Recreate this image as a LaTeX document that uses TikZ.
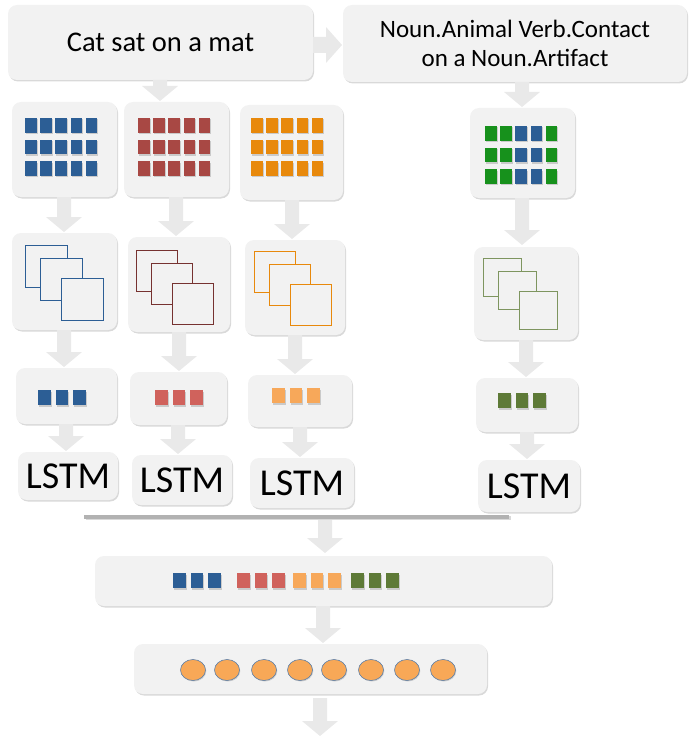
\documentclass[tikz,border=0pt]{standalone}
\usepackage{fontspec}
\setmainfont{Carlito}
\usetikzlibrary{shadows}
\definecolor{bx}{HTML}{F2F2F2}
\definecolor{ar}{HTML}{E9E9E9}
\definecolor{cB}{HTML}{2C5E95}
\definecolor{cR}{HTML}{A84844}
\definecolor{cO}{HTML}{E8890C}
\definecolor{cG}{HTML}{17911C}
\definecolor{sR}{HTML}{D0625C}
\definecolor{sO}{HTML}{F7A85A}
\definecolor{sG}{HTML}{5E7A37}
\definecolor{eO}{HTML}{F8A857}
\definecolor{eE}{HTML}{5C7FA8}
\tikzset{
  box/.style={fill=bx,draw=none,rounded corners=9pt,drop shadow={shadow xshift=1pt,shadow yshift=-1.5pt,opacity=0.3}},
  sq/.style={draw=none,drop shadow={shadow xshift=1pt,shadow yshift=-1.5pt,opacity=0.35}},
  frm/.style={fill=bx,line width=0.8pt},
  lbl/.style={font=\fontsize{38}{40}\selectfont},
}
\newcommand\dnarr[3]{\fill[ar] (#1-7,#2) -- (#1+7,#2) -- (#1+7,#3-15) -- (#1+18,#3-15) -- (#1,#3) -- (#1-18,#3-15) -- (#1-7,#3-15) -- cycle;}
\newcommand\gcol[3]{\foreach \j in {0,...,2}{\fill[#3,sq] (#1,#2+\j*21.5) rectangle ++(11.5,14.5);}}
\newcommand\grid[3]{\foreach \i in {0,...,4}{\gcol{#1+\i*15.2}{#2}{#3}}}
\newcommand\frames[5]{\draw[frm,draw=#5] (#1,#2) rectangle ++(#4,#4);\draw[frm,draw=#5] (#1+15,#2+13) rectangle ++(#4,#4);\draw[frm,draw=#5] (#1+36,#2+33) rectangle ++(#4,#4);}
\newcommand\three[3]{\foreach \i in {0,1,2}{\fill[#3,sq] (#1+\i*17.5,#2) rectangle ++(12.5,15);}}
\begin{document}
\begin{tikzpicture}[x=1pt,y=-1pt]
\useasboundingbox (0,0) rectangle (697,749);
% top boxes
\node[box,minimum width=305,minimum height=75,font=\fontsize{28.5}{30}\selectfont] (A) at (160.5,42.5) {Cat sat on a mat};
\node[box,minimum width=344,minimum height=77,font=\fontsize{25}{29}\selectfont,align=center] (B) at (515,43.5) {Noun.Animal Verb.Contact\\on a Noun.Artifact};
\fill[ar] (313,37) -- (326,37) -- (326,27) -- (342,45) -- (326,63) -- (326,53) -- (313,53) -- cycle;
\dnarr{160}{80}{101}
\dnarr{522}{82}{107}
% row 1
\node[box,minimum width=105,minimum height=95] (g1) at (64.5,149.5) {};
\node[box,minimum width=105,minimum height=95] (g2) at (176.5,149.5) {};
\node[box,minimum width=103,minimum height=95] (g3) at (291.5,152.5) {};
\node[box,minimum width=105,minimum height=90] (g4) at (522.5,153) {};
\grid{25}{118}{cB}
\grid{138}{118}{cR}
\grid{251}{118}{cO}
\gcol{485}{126}{cG}
\gcol{500.2}{126}{cG}
\gcol{515.4}{126}{cB}
\gcol{530.6}{126}{cB}
\gcol{545.8}{126}{cG}
\dnarr{64}{197}{232}
\dnarr{176}{197}{236}
\dnarr{292}{200}{239}
\dnarr{522}{198}{245}
% row 2
\node[box,minimum width=105,minimum height=97] (f1) at (64.5,281.5) {};
\node[box,minimum width=102,minimum height=95] (f2) at (179,284.5) {};
\node[box,minimum width=100,minimum height=95] (f3) at (295,287.5) {};
\node[box,minimum width=104,minimum height=93] (f4) at (526,293.5) {};
\frames{25}{245}{cB}{42}{cB}
\frames{136}{250}{cR}{41}{cR!70!black}
\frames{254}{251}{cO}{41}{cO}
\frames{483}{258}{cG}{38}{sG!80!white}
\dnarr{64}{330}{367}
\dnarr{179}{332}{371}
\dnarr{295}{335}{374}
\dnarr{526}{340}{377}
% row 3
\node[box,minimum width=101,minimum height=56] (s1) at (66.5,396) {};
\node[box,minimum width=97,minimum height=53] (s2) at (178.5,398.5) {};
\node[box,minimum width=104,minimum height=52] (s3) at (300,401) {};
\node[box,minimum width=102,minimum height=54] (s4) at (527,405) {};
\three{38}{390}{cB}
\three{155}{390}{sR}
\three{272}{388}{sO}
\three{498}{393}{sG}
\dnarr{66}{424}{451}
\dnarr{178}{425}{454}
\dnarr{300}{427}{457}
\dnarr{527}{432}{459}
% LSTM
\node[box,lbl,minimum width=100,minimum height=48,inner sep=1pt] (l1) at (68,476) {LSTM};
\node[box,lbl,minimum width=100,minimum height=50,inner sep=1pt] (l2) at (182,480) {LSTM};
\node[box,lbl,minimum width=104,minimum height=50,inner sep=1pt] (l3) at (302,483) {LSTM};
\node[box,lbl,minimum width=102,minimum height=52,inner sep=1pt] (l4) at (529,486) {LSTM};
\fill[gray!60,drop shadow={shadow yshift=-1pt,opacity=0.3}] (84,515) rectangle (509,519);
\dnarr{325}{520}{553}
% concat
\node[box,minimum width=457,minimum height=50] (C) at (323.5,581) {};
\three{173}{573}{cB}
\three{237}{573}{sR}
\three{293}{573}{sO}
\three{351}{573}{sG}
\dnarr{323}{606}{643}
% ellipses
\node[box,minimum width=353,minimum height=50] (E) at (310.5,669) {};
\foreach \x in {193,227,264,300,334,371,407,443}{\draw[fill=eO,draw=eE,line width=0.6pt,drop shadow={shadow xshift=0.8pt,shadow yshift=-1pt,opacity=0.3}] (\x,670) ellipse (12.5 and 10.5);}
\dnarr{320}{698}{736}
\end{tikzpicture}
\end{document}
